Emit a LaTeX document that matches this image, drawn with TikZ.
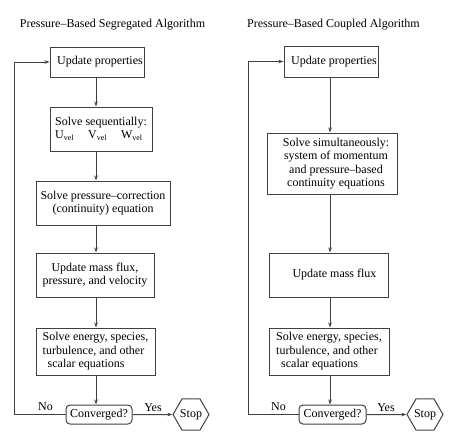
\documentclass[tikz,border=0pt]{standalone}
\usepackage{fontspec}
\setmainfont{Liberation Serif}
\usetikzlibrary{arrows.meta,shapes.geometric}
\begin{document}
\begin{tikzpicture}[x=1pt,y=-1pt,
  every node/.style={text=black, font=\fontsize{12}{13.4}\selectfont},
  box/.style={draw=black!75, line width=1pt, rectangle, inner sep=0pt, align=center},
  conv/.style={draw=black!75, line width=1pt, rectangle, rounded corners=4pt, inner sep=0pt, minimum width=66pt, minimum height=19pt},
  stopbox/.style={draw=black!75, line width=1pt, regular polygon, regular polygon sides=6, inner sep=0pt, minimum size=36pt},
  arr/.style={draw=black!75, line width=1pt, -{Stealth[length=5pt,width=3.5pt]}},
  lbl/.style={inner sep=0pt}
]
\useasboundingbox (0,0) rectangle (474,439);

% ---------- left panel ----------
\node[lbl] (t1) at (112.5,25) {Pressure--Based Segregated Algorithm};
\node[box, minimum width=94pt, minimum height=30pt] (up1) at (97,62) {\hspace{6pt}Update properties};
\node[box, minimum width=102pt, minimum height=44pt, align=left] (ss1) at (101,129) {Solve sequentially:\\U\textsubscript{vel}\hspace{14pt}V\textsubscript{vel}\hspace{14pt}W\textsubscript{vel}};
\node[box, minimum width=134pt, minimum height=44pt] (pc1) at (103,203) {Solve pressure--correction\\(continuity) equation};
\node[box, minimum width=118pt, minimum height=44pt] (mf1) at (95,275) {Update mass flux,\\pressure, and velocity};
\node[box, minimum width=119pt, minimum height=47pt, align=left] (se1) at (95.5,351.5) {Solve energy, species,\\turbulence, and other\\\hspace{5pt}scalar equations};
\node[conv] (cv1) at (99,414.5) {Converged?};
\node[stopbox] (st1) at (191,414.5) {Stop};
\coordinate (ax1) at (96,0);
\coordinate (lx1) at (14,0);

\draw[arr] (up1.south -| ax1) -- (ss1.north -| ax1);
\draw[arr] (ss1.south -| ax1) -- (pc1.north -| ax1);
\draw[arr] (pc1.south -| ax1) -- (mf1.north -| ax1);
\draw[arr] (mf1.south -| ax1) -- (se1.north -| ax1);
\draw[arr] (se1.south -| ax1) -- (cv1.north -| ax1);
\draw[arr] (cv1.east) -- (st1.west);
\draw[arr] (cv1.west) -- (cv1.west -| lx1) -- (up1.west -| lx1) -- (up1.west);
\node[lbl] at (45.5,406.5) {No};
\node[lbl] at (153,408) {Yes};

% ---------- right panel ----------
\node[lbl] (t2) at (333.5,25) {Pressure--Based Coupled Algorithm};
\node[box, minimum width=94pt, minimum height=31pt] (up2) at (331,61.5) {\hspace{6pt}Update properties};
\node[box, minimum width=130pt, minimum height=61pt] (ss2) at (332,163.5) {\hspace{8pt}Solve simultaneously:\\\hspace{8pt}system of momentum\\\hspace{8pt}and pressure--based\\\hspace{8pt}continuity equations};
\node[box, minimum width=119pt, minimum height=44pt] (mf2) at (328.5,275) {\hspace{12pt}Update mass flux};
\node[box, minimum width=120pt, minimum height=47pt, align=left] (se2) at (329,351.5) {Solve energy, species,\\turbulence, and other\\\hspace{5pt}scalar equations};
\node[conv, minimum width=67pt] (cv2) at (332.5,414.5) {Converged?};
\node[stopbox] (st2) at (425,414.5) {Stop};
\coordinate (ax2) at (330,0);
\coordinate (lx2) at (248,0);

\draw[arr] (up2.south -| ax2) -- (ss2.north -| ax2);
\draw[arr] (ss2.south -| ax2) -- (mf2.north -| ax2);
\draw[arr] (mf2.south -| ax2) -- (se2.north -| ax2);
\draw[arr] (se2.south -| ax2) -- (cv2.north -| ax2);
\draw[arr] (cv2.east) -- (st2.west);
\draw[arr] (cv2.west) -- (cv2.west -| lx2) -- (up2.west -| lx2) -- (up2.west);
\node[lbl] at (278.5,406.5) {No};
\node[lbl] at (386,408) {Yes};
\end{tikzpicture}
\end{document}
